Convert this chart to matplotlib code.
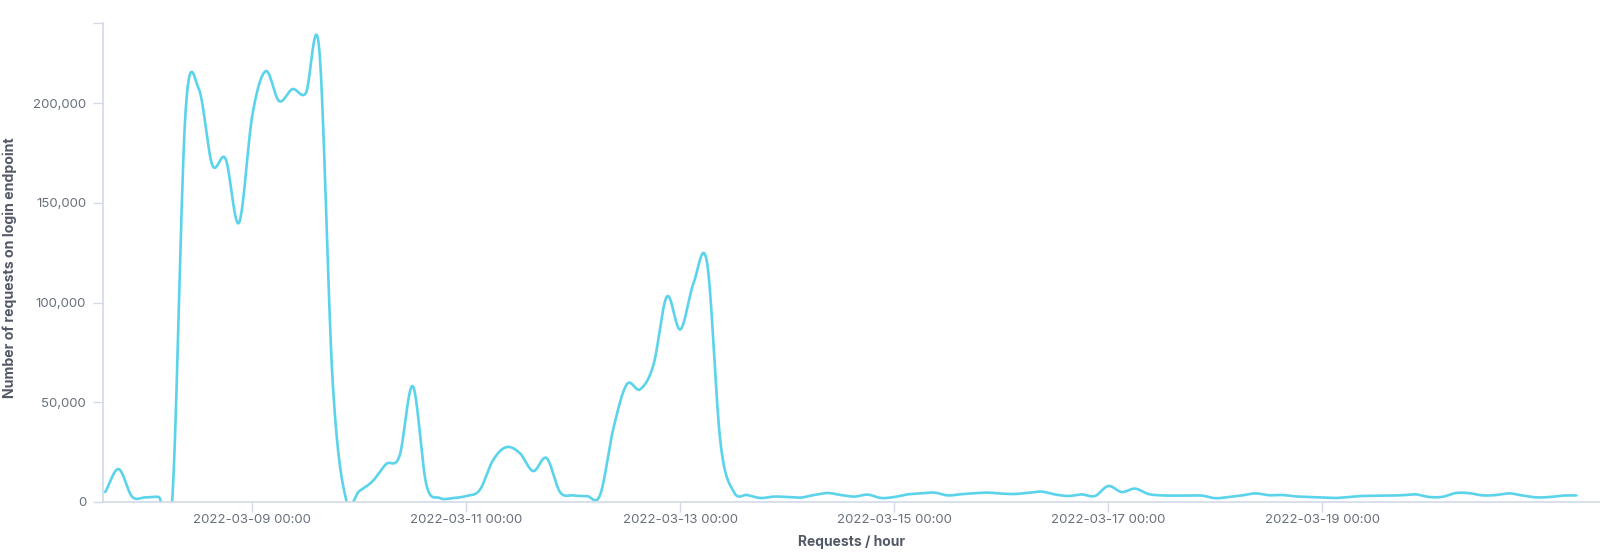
import numpy as np
import pandas as pd
import matplotlib
matplotlib.use('Agg')
import matplotlib.pyplot as plt
import matplotlib.dates as mdates

plt.rcParams['font.family'] = ['Inter', 'DejaVu Sans']

# 3-hourly buckets starting 2022-03-07 15:00
start = '2022-03-07 15:00'
requests = [
    5000, 16500, 2700, 2300, 2500, 0, 195000, 207000, 169000, 172000,
    140000, 194000, 216000, 201000, 207000, 205000, 227000, 61000, 1500, 5500,
    10500, 19000, 23000, 58000, 9000, 2000, 2000, 3000, 6000, 21000,
    27500, 24500, 15500, 22000, 5000, 3300, 3000, 3500, 37000, 59000,
    56500, 69000, 103000, 86500, 110000, 120000, 30000, 5000, 3500, 2000,
    2700, 2500, 2200, 3500, 4500, 3500, 2700, 3700, 2000, 2500,
    3800, 4300, 4700, 3300, 3900, 4400, 4700, 4200, 4000, 4600,
    5200, 3800, 3000, 3800, 3000, 8000, 5000, 6700, 4000, 3300,
    3200, 3200, 3200, 1900, 2500, 3300, 4300, 3400, 3500, 2800,
    2500, 2200, 2000, 2500, 3000, 3100, 3200, 3400, 3800, 2500,
    2600, 4500, 4400, 3300, 3500, 4300, 3200, 2300, 2500, 3200,
    3300,
]
times = pd.date_range(start, periods=len(requests), freq='3h')

tick_dates = ['2022-03-09 00:00', '2022-03-11 00:00', '2022-03-13 00:00',
              '2022-03-15 00:00', '2022-03-17 00:00', '2022-03-19 00:00']
y_ticks = [0, 50000, 100000, 150000, 200000, 240000]


def smooth(x, y, n=24):
    # cardinal / catmull-rom style curve through the points
    y = np.asarray(y, dtype=float)
    m = np.empty_like(y)
    m[1:-1] = (y[2:] - y[:-2]) / 2
    m[0] = y[1] - y[0]
    m[-1] = y[-1] - y[-2]
    s = np.linspace(0, 1, n, endpoint=False)
    h00 = 2 * s**3 - 3 * s**2 + 1
    h10 = s**3 - 2 * s**2 + s
    h01 = -2 * s**3 + 3 * s**2
    h11 = s**3 - s**2
    xs, ys = [], []
    for i in range(len(y) - 1):
        xs.append(x[i] + s * (x[i + 1] - x[i]))
        ys.append(h00 * y[i] + h10 * m[i] + h01 * y[i + 1] + h11 * m[i + 1])
    xs.append([x[-1]])
    ys.append([y[-1]])
    return np.concatenate(xs), np.concatenate(ys)


t = mdates.date2num(times)
xs, ys = smooth(t, requests)

fig = plt.figure(figsize=(16, 5.54), dpi=100)
ax = fig.add_axes([0.0642, 0.0939, 1 - 0.0642, 0.958 - 0.0939])

ax.plot(xs, ys, color='#5bd3ea', linewidth=1.9, solid_capstyle='round')

ax.set_xlim(pd.Timestamp('2022-03-07 14:26'), pd.Timestamp('2022-03-21 14:18'))
ax.set_ylim(0, 240000)

ax.set_xticks([pd.Timestamp(d) for d in tick_dates])
ax.set_xticklabels(tick_dates)
ax.set_yticks(y_ticks)
ax.set_yticklabels([f'{v:,}' if v <= 200000 else '' for v in y_ticks])

for side in ['top', 'right']:
    ax.spines[side].set_visible(False)
for side in ['left', 'bottom']:
    ax.spines[side].set_color('#d3dae6')
    ax.spines[side].set_linewidth(1.2)

ax.tick_params(axis='both', colors='#d3dae6', length=7, width=1,
               labelcolor='#69707d', labelsize=9.5)
ax.tick_params(axis='x', pad=2)
ax.tick_params(axis='y', pad=5)

ax.set_xlabel('Requests / hour', fontsize=10, fontweight='bold', color='#535966')
ax.set_ylabel('Number of requests on login endpoint', fontsize=10.2,
              fontweight='bold', color='#535966')
ax.xaxis.set_label_coords(0.5, -0.07)
ax.yaxis.set_label_coords(-0.0574, 0.49)

fig.savefig('out.png', dpi=100)
